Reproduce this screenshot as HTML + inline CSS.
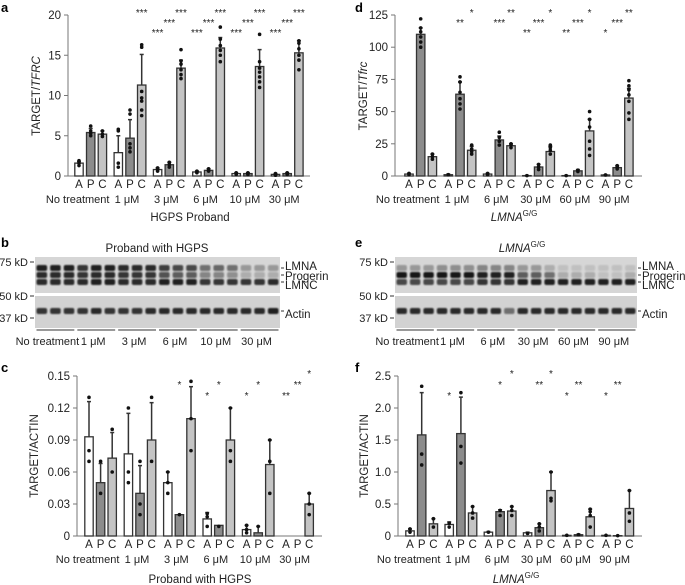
<!DOCTYPE html>
<html><head><meta charset="utf-8"><style>
body{margin:0;background:#fff;}
svg{display:block;font-family:"Liberation Sans",Arial,sans-serif;}
</style></head><body>
<svg id="fig" width="685" height="585" viewBox="0 0 685 585" xmlns="http://www.w3.org/2000/svg">
<defs><filter id="blur" x="-20%" y="-50%" width="140%" height="200%"><feGaussianBlur stdDeviation="0.9"/></filter></defs>
<g font-weight="bold" font-size="13">
<text x="1" y="12">a</text><text x="355" y="12">d</text>
<text x="1" y="247">b</text><text x="355" y="247">e</text>
<text x="1" y="372">c</text><text x="355" y="372">f</text>
</g>
</svg>
<script>
// ---------- data ----------
const barLabels = ["A","P","C"];
const groupsHGPS = ["No treatment","1 μM","3 μM","6 μM","10 μM","30 μM"];
const groupsLMNA = ["No treatment","1 μM","6 μM","30 μM","60 μM","90 μM"];
const ticksA = [0,5,10,15,20];
const ticksD = [0,25,50,75,100,125];
const ticksC = [0,0.03,0.06,0.09,0.12,0.15];
const tickLabelsC = ["0","0.03","0.06","0.09","0.12","0.15"];
const ticksF = [0,0.5,1.0,1.5,2.0,2.5];
const tickLabelsF = ["0","0.5","1.0","1.5","2.0","2.5"];

const aValsA = [1.6,2.9,0.8,0.5,0.3,0.2];
const aValsP = [5.4,4.7,1.4,0.7,0.3,0.3];
const aValsC = [5.2,11.3,13.4,15.9,13.6,15.3];
const aErrA = [1.8,5.0,1.0,0.6,0.4,0.3];
const aErrP = [5.9,7.0,1.7,0.9,0.4,0.4];
const aErrC = [5.6,15.1,14.4,17.2,15.7,16.8];
const aDotsA = [[1.3,1.6,1.9],[1.1,1.6,5.6,5.8],[0.6,0.8,1.0],[0.4,0.5,0.6],[0.2,0.3,0.4],[0.1,0.2,0.3]];
const aDotsP = [[5.0,5.3,5.6,6.2],[3.0,3.5,4.0,7.7,8.2],[1.1,1.4,1.7],[0.6,0.7,0.9],[0.2,0.3,0.4],[0.2,0.3,0.4]];
const aDotsC = [[4.9,5.2,5.6],[7.5,8.2,9.3,9.7,10.5,16,16.3],[12.1,12.6,13.2,13.9,14.3,15.7],[14.2,15,15.6,16.2,17,18.5],[11,11.7,12.3,12.9,13.4,14.2,17.6],[13.2,14.4,15,15.8,16.5,16.8]];

const dValsA = [1.5,1.0,1.5,0.3,0.3,0.8];
const dValsP = [110,63.5,28,7,4,6.5];
const dValsC = [15,20,23.5,19,35,60.5];
const dErrA = [2,1.5,2,0.5,0.5,1];
const dErrP = [115,73,31,9,5,8];
const dErrC = [17,23,25,23,44,68];
const dDotsA = [[1,2],[1],[1,2],[0.3],[0.3],[0.8]];
const dDotsP = [[100,104,108,112,115,122],[52,56,60,65,73,77],[24,27,30,34],[5,7,9],[3.5,4.5],[5.5,7,8]];
const dDotsC = [[13,15,17],[17,19,21,24],[22,24,25],[17,20,22,24],[16,21,27,38,44,50],[44,49,58,63,67,70,74]];

const cValsA = [0.093,0.077,0.05,0.016,0.006,0];
const cValsP = [0.05,0.04,0.02,0.01,0.003,0];
const cValsC = [0.073,0.09,0.11,0.09,0.067,0.03];
const cErrA = [0.126,0.115,0.06,0.022,0.01,0];
const cErrP = [0.068,0.066,0.02,0.01,0.009,0];
const cErrC = [0.097,0.125,0.14,0.12,0.09,0.04];
const cDotsA = [[0.07,0.08,0.13],[0.05,0.06,0.12],[0.04,0.05,0.06],[0.009,0.018,0.021],[0.003,0.006,0.01],[]];
const cDotsP = [[0.04,0.07],[0.02,0.03,0.07],[0.02],[0.009],[0.009],[]];
const cDotsC = [[0.06,0.1],[0.07,0.13],[0.08,0.11,0.145],[0.07,0.08,0.12],[0.04,0.07,0.09],[0.02,0.03,0.04]];

const fValsA = [0.08,0.18,0.06,0.05,0.01,0.01];
const fValsP = [1.58,1.6,0.38,0.13,0.02,0.005];
const fValsC = [0.19,0.36,0.39,0.71,0.3,0.43];
const fErrA = [0.11,0.22,0.07,0.06,0.01,0.01];
const fErrP = [2.24,2.17,0.41,0.19,0.03,0.005];
const fErrC = [0.27,0.46,0.46,1.0,0.42,0.71];
const fDotsA = [[0.06,0.11],[0.14,0.2],[0.06],[0.04],[0.01],[0.01]];
const fDotsP = [[1.11,1.28,2.34],[1.14,1.4,2.24],[0.32,0.4],[0.08,0.14,0.19],[0.02],[0.005]];
const fDotsC = [[0.14,0.27],[0.28,0.36,0.46],[0.32,0.4,0.46],[0.55,0.59,1.0],[0.14,0.32,0.38,0.42],[0.23,0.36,0.71]];

// stars: [groupIndex, barIndex, row(0 top), text]
const aStars = [[1,2,0,"***"],[2,2,0,"***"],[3,2,0,"***"],[4,2,0,"***"],[5,2,0,"***"],
  [2,1,1,"***"],[3,1,1,"***"],[4,1,1,"***"],[5,1,1,"***"],
  [2,0,2,"***"],[3,0,2,"***"],[4,0,2,"***"],[5,0,2,"***"]];
const dStars = [[1,2,0,"*"],[2,2,0,"**"],[3,2,0,"*"],[4,2,0,"*"],[5,2,0,"**"],
  [1,1,1,"**"],[2,1,1,"***"],[3,1,1,"***"],[4,1,1,"***"],[5,1,1,"***"],
  [3,0,2,"**"],[4,0,2,"**"],[5,0,2,"*"]];
const cStars = [[5,2,-1,"*"],[2,1,0,"*"],[3,1,0,"*"],[4,1,0,"*"],[5,1,0,"**"],
  [3,0,1,"*"],[4,0,1,"*"],[5,0,1,"**"]];
const fStars = [[2,2,-1,"*"],[3,2,-1,"*"],[2,1,0,"*"],[3,1,0,"**"],[4,1,0,"**"],[5,1,0,"**"],
  [1,0,1,"*"],[4,0,1,"*"],[5,0,1,"*"]];

// blot band intensities (0..1) per lane, 18 lanes
const bLMNA = [.9,.9,.9,.8,.9,.9,.85,.85,.85,.75,.7,.7,.5,.55,.5,.3,.3,.3];
const bProg = [.85,.85,.85,.8,.85,.85,.8,.8,.8,.65,.6,.6,.4,.4,.35,.2,.2,.2];
const bLMNC = [.85,.85,.85,.85,.9,.9,.85,.85,.85,.9,.9,.9,.8,.8,.8,.8,.8,.85];
const bActin = [.8,.8,.8,.8,.85,.8,.8,.8,.85,.85,.85,.85,.85,.85,.85,.85,.85,.9];
const eLMNA = [.3,.3,.3,.35,.35,.35,.4,.4,.4,.3,.3,.2,.1,.1,.1,.1,.1,.1];
const eProg = [.95,.95,.95,.95,.95,.95,.9,.9,.9,.6,.6,.5,.2,.2,.2,.1,.1,.2];
const eLMNC = [.7,.7,.7,.7,.7,.7,.8,.8,.8,.9,.9,.9,.9,.9,.9,.9,.9,.9];
const eActin = [.85,.85,.85,.85,.85,.85,.85,.85,.5,.85,.85,.85,.85,.85,.85,.85,.85,.85];

// ---------- drawing ----------
const NS = "http://www.w3.org/2000/svg";
const svg = document.getElementById("fig");
function mk(tag, attrs, parent){
  const e = document.createElementNS(NS, tag);
  for (const k in attrs) e.setAttribute(k, attrs[k]);
  (parent||svg).appendChild(e);
  return e;
}
const fills = ["#ffffff","#8c8c8c","#c4c4c4"];

function drawChart(p){
  const g = mk("g", {});
  
  
  const ymax = p.ticks[p.ticks.length-1];
  const yS = v => p.yBot - (v/ymax)*(p.yBot-p.yTop);
  const xS = (gi, bi) => p.a0 + gi*p.gStep + bi*p.bStep;
  const ax = mk("line", {x1:p.ax, y1:p.yTop, x2:p.ax, y2:p.yBot, stroke:"#777", "stroke-width":1}, g);
  
  
  const xa = mk("line", {x1:p.ax, y1:p.yBot, x2:p.xEnd, y2:p.yBot, stroke:"#777", "stroke-width":1}, g);
  
  
  p.ticks.forEach((t,i)=>{
    const y = yS(t);
    mk("line", {x1:p.ax-4, y1:y, x2:p.ax, y2:y, stroke:"#777"}, g);
    const tl = mk("text", {x:p.ax-7, y:y+4, "font-size":11.5, "text-anchor":"end", fill:"#222"}, g);
    tl.textContent = p.tickLabels ? p.tickLabels[i] : String(t);
    
    
  });
  const yt = mk("text", {transform:`translate(${p.ytx},${p.yty}) rotate(-90)`, "font-size":11.5, "text-anchor":"middle", fill:"#222"}, g);
  yt.innerHTML = p.ytitle;
  
  
  const series = [[p.vA,p.eA,p.dA],[p.vP,p.eP,p.dP],[p.vC,p.eC,p.dC]];
  p.groups.forEach((gname, gi)=>{
    series.forEach((s, bi)=>{
      const cx = xS(gi, bi);
      const v = s[0][gi], e = s[1][gi];
      const y = yS(v);
      if (e > v) {
        mk("line", {x1:cx, y1:y, x2:cx, y2:yS(e), stroke:"#333", "stroke-width":1.5}, g);
        mk("line", {x1:cx-2, y1:yS(e), x2:cx+2, y2:yS(e), stroke:"#333", "stroke-width":1.5}, g);
      }
      const r = mk("rect", {x:cx-4.2, y:y, width:8.4, height:Math.max(0,p.yBot-y), fill:fills[bi], stroke:"#333", "stroke-width":1.3}, g);
      
      
      s[2][gi].forEach(dv=>{
        const d = mk("circle", {cx:cx, cy:yS(dv), r:1.8, fill:"#111"}, g);
        
        
      });
      const bl = mk("text", {x:cx, y:p.yBot+12, "font-size":11.5, "text-anchor":"middle", fill:"#222"}, g);
      bl.textContent = barLabels[bi];
      
      
    });
    const gl = mk("text", {x:xS(gi,1) - (gi===0 ? 13 : 3), y:p.yBot+27, "font-size":11, "text-anchor":"middle", fill:"#222"}, g);
    gl.textContent = gname;
    
    
  });
  p.stars.forEach(s=>{
    const st = mk("text", {x:xS(s[0],s[1]), y:p.starY + s[2]*p.starRow + 4, "font-size":10, "text-anchor":"middle", fill:"#222"}, g);
    st.textContent = s[3];
    
    
  });
  const xt = mk("text", {x:p.xtx, y:p.xty, "font-size":11.5, "text-anchor":"middle", fill:"#222"}, g);
  xt.innerHTML = p.xtitle;
  
  
}

drawChart({name:"chart-a", ax:68, xEnd:310, yTop:15, yBot:176, ticks:ticksA, a0:79, gStep:39.3, bStep:11.7,
  groups:groupsHGPS, vA:aValsA, vP:aValsP, vC:aValsC, eA:aErrA, eP:aErrP, eC:aErrC, dA:aDotsA, dP:aDotsP, dC:aDotsC,
  stars:aStars, starY:12, starRow:10, ytx:40, yty:96, ytitle:'TARGET/<tspan font-style="italic">TFRC</tspan>',
  xtx:190, xty:221, xtitle:"HGPS Proband"});
drawChart({name:"chart-d", ax:395, xEnd:642, yTop:15, yBot:176, ticks:ticksD, a0:409, gStep:39.3, bStep:11.7,
  groups:groupsLMNA, vA:dValsA, vP:dValsP, vC:dValsC, eA:dErrA, eP:dErrP, eC:dErrC, dA:dDotsA, dP:dDotsP, dC:dDotsC,
  stars:dStars, starY:12, starRow:10, ytx:367, yty:96, ytitle:'TARGET/<tspan font-style="italic">Tfrc</tspan>',
  xtx:514, xty:221, xtitle:'<tspan font-style="italic">LMNA</tspan><tspan font-size="8" dy="-5">G/G</tspan>'});
drawChart({name:"chart-c", ax:77, xEnd:322, yTop:376, yBot:536, ticks:ticksC, tickLabels:tickLabelsC, a0:89, gStep:39.4, bStep:11.6,
  groups:groupsHGPS, vA:cValsA, vP:cValsP, vC:cValsC, eA:cErrA, eP:cErrP, eC:cErrC, dA:cDotsA, dP:cDotsP, dC:cDotsC,
  stars:cStars, starY:384, starRow:11, ytx:38, yty:456, ytitle:'TARGET/ACTIN',
  xtx:200, xty:583, xtitle:"Proband with HGPS"});
drawChart({name:"chart-f", ax:398, xEnd:642, yTop:376, yBot:536, ticks:ticksF, tickLabels:tickLabelsF, a0:410, gStep:39.2, bStep:11.7,
  groups:groupsLMNA, vA:fValsA, vP:fValsP, vC:fValsC, eA:fErrA, eP:fErrP, eC:fErrC, dA:fDotsA, dP:fDotsP, dC:fDotsC,
  stars:fStars, starY:384, starRow:11, ytx:368, yty:456, ytitle:'TARGET/ACTIN',
  xtx:516, xty:583, xtitle:'<tspan font-style="italic">LMNA</tspan><tspan font-size="8" dy="-5">G/G</tspan>'});

function drawBlot(p){
  const g = mk("g", {});
  
  
  const w = p.x1 - p.x0;
  const top = mk("rect", {x:p.x0, y:257, width:w, height:36, fill:"#d6d6d6"}, g);
  
  
  const bot = mk("rect", {x:p.x0, y:296, width:w, height:32, fill:"#d2d2d2"}, g);
  
  
  const lw = w/18;
  const rows = [[p.lmna,268],[p.prog,275],[p.lmnc,282],[p.actin,311]];
  rows.forEach(rw=>{
    rw[0].forEach((v,i)=>{
      const b = mk("rect", {x:p.x0+i*lw+1.5, y:rw[1]-3, width:lw-3, height:6, rx:2, fill:"#111", opacity:v, filter:"url(#blur)"}, g);
      
      
    });
  });
  [["75 kD",262],["50 kD",296],["37 kD",318]].forEach(m=>{
    const t = mk("text", {x:p.x0-7, y:m[1]+4, "font-size":11, "text-anchor":"end", fill:"#222"}, g);
    t.textContent = m[0];
    
    
    mk("line", {x1:p.x0-5, y1:m[1], x2:p.x0-1, y2:m[1], stroke:"#333"}, g);
  });
  [["LMNA",266,268],["Progerin",276,275],["LMNC",285,282],["Actin",314,311]].forEach(m=>{
    mk("line", {x1:p.x1+1, y1:m[2], x2:p.x1+4, y2:m[2], stroke:"#333"}, g);
    const t = mk("text", {x:p.x1+5, y:m[1]+4, "font-size":11.5, fill:"#222"}, g);
    t.textContent = m[0];
    
    
  });
  p.groups.forEach((gn,i)=>{
    mk("line", {x1:p.x0+i*3*lw+1.5, y1:330, x2:p.x0+(i+1)*3*lw-1.5, y2:330, stroke:"#333", "stroke-width":1}, g);
    const t = mk("text", {x:p.x0+(i+0.5)*3*lw + (i===0?-8:-3), y:345, "font-size":11, "text-anchor":"middle", fill:"#222"}, g);
    t.textContent = gn;
    
    
  });
  const tt = mk("text", {x:p.tx, y:252, "font-size":11.5, "text-anchor":"middle", fill:"#222"}, g);
  tt.innerHTML = p.title;
  
  
}
drawBlot({name:"blot-b", x0:35, x1:280, lmna:bLMNA, prog:bProg, lmnc:bLMNC, actin:bActin, groups:groupsHGPS, tx:157, title:"Proband with HGPS"});
drawBlot({name:"blot-e", x0:395, x1:637, lmna:eLMNA, prog:eProg, lmnc:eLMNC, actin:eActin, groups:groupsLMNA, tx:522, title:'<tspan font-style="italic">LMNA</tspan><tspan font-size="8" dy="-5">G/G</tspan>'});
</script>
</body></html>
